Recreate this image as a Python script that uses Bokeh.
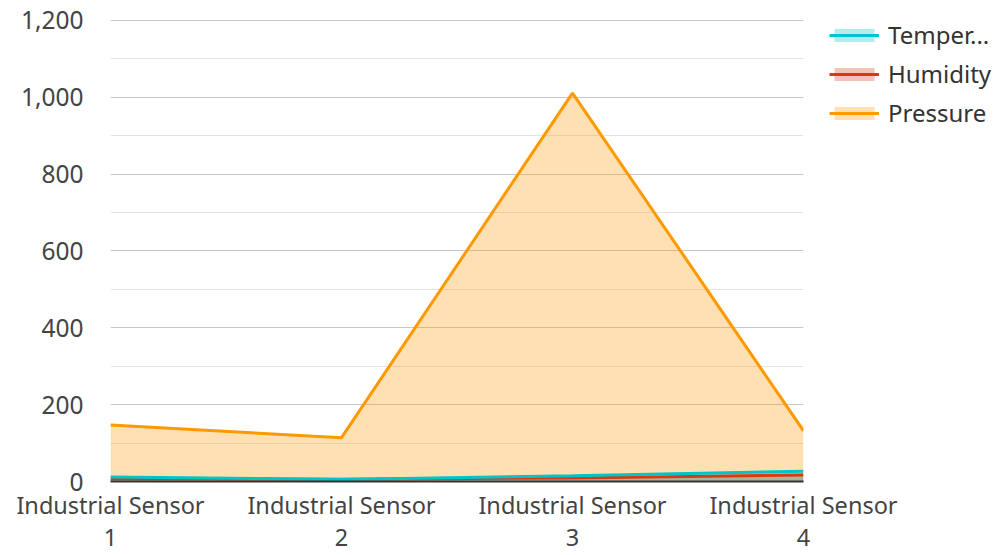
from bokeh.plotting import figure
from bokeh.models import Legend, LegendItem, FixedTicker, NumeralTickFormatter, Range1d
from bokeh.embed import file_html
from bokeh.resources import INLINE

categories = ["Industrial Sensor\n1", "Industrial Sensor\n2", "Industrial Sensor\n3", "Industrial Sensor\n4"]
temperature = [12, 5, 15, 27]
humidity = [7, 6, 9, 17]
pressure = [147, 114, 1011, 132]
y_ticks = [0, 200, 400, 600, 800, 1000, 1200]

series = [
    ("Pressure", pressure, "#FF9900"),
    ("Humidity", humidity, "#DC3912"),
    ("Temper...", temperature, "#00C5C8"),
]

xs = list(range(len(categories)))
FONT = "Noto Sans"

p = figure(frame_width=693, frame_height=463, output_backend="svg", toolbar_location=None,
           x_range=Range1d(0, len(categories) - 1), y_range=Range1d(0, 1205),
           min_border_left=110, min_border_top=18, min_border_right=0, min_border_bottom=0)
p.outline_line_color = None
p.background_fill_color = "white"

areas = {}
lines = {}
for name, vals, col in series:
    areas[name] = p.varea(x=xs, y1=[0] * len(vals), y2=vals, fill_color=col, fill_alpha=0.3)
for name, vals, col in series:
    lines[name] = p.line(x=xs, y=vals, line_color=col, line_width=3)

# axes
p.xaxis.ticker = FixedTicker(ticks=xs)
p.xaxis.major_label_overrides = {i: c for i, c in enumerate(categories)}
p.xaxis.major_tick_line_color = None
p.xaxis.minor_tick_line_color = None
p.xaxis.axis_line_color = "#333333"
p.xaxis.axis_line_width = 2
p.xaxis.major_label_text_font = FONT
p.xaxis.major_label_text_font_size = "23.5px"
p.xaxis.major_label_text_color = "#444444"
p.xaxis.major_label_text_line_height = 1.0
p.xaxis.major_label_standoff = 1

p.yaxis.ticker = FixedTicker(ticks=y_ticks, minor_ticks=list(range(0, 1201, 100)))
p.yaxis.formatter = NumeralTickFormatter(format="0,0")
p.yaxis.major_tick_line_color = None
p.yaxis.minor_tick_line_color = None
p.yaxis.axis_line_color = None
p.yaxis.major_label_text_font = FONT
p.yaxis.major_label_text_font_size = "24.5px"
p.yaxis.major_label_text_color = "#444444"
p.yaxis.major_label_standoff = 21

p.xgrid.grid_line_color = None
p.ygrid.grid_line_color = "#c8c8c8"
p.ygrid.minor_grid_line_color = "#e3e3e3"

items = [LegendItem(label=name, renderers=[areas[name], lines[name]]) for name, _, _ in reversed(series)]
legend = Legend(items=items, location="top_left", orientation="vertical",
                glyph_width=50, glyph_height=16, label_height=16, spacing=6,
                padding=0, margin=0, border_line_color=None, background_fill_alpha=0,
                title=".", title_location="left", title_text_font_size="4px",
                title_text_alpha=0, title_standoff=21,
                label_text_font=FONT, label_text_font_size="24px", label_text_color="#333333",
                label_standoff=9)
p.add_layout(legend, "right")

open("out.html", "w").write(file_html(p, INLINE))
